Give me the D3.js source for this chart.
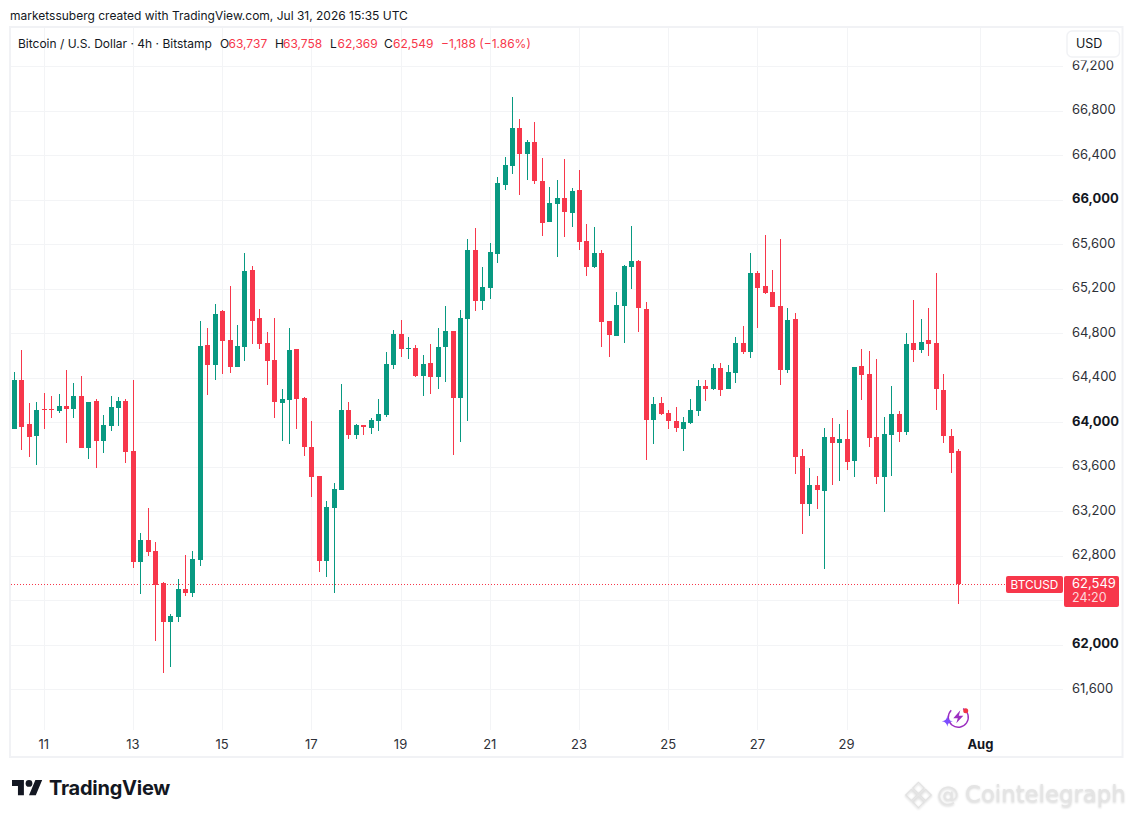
<!DOCTYPE html>
<html>
<head>
<meta charset="utf-8">
<title>BTCUSD 4h</title>
<script src="https://cdn.jsdelivr.net/npm/d3@7"></script>
<style>
  html, body { margin: 0; padding: 0; background: #fff; }
  svg { display: block; }
  text { font-family: Inter, "Noto Sans", sans-serif; font-size: 13px; fill: #131722; }
  .axis text { fill: #2e3138; font-size: 13px; }
  .axis path, .axis line { display: none; }
  .major text, text.major { font-weight: 700; fill: #131722; }
</style>
</head>
<body>
<svg id="chart" width="1133" height="818"></svg>
<script>
"use strict"

// 4h candles, first one is Jul 10 2026 08:00 UTC
var firstCandle = Date.UTC(2026, 6, 10, 8)

var opens = [63938,64379,63983,63875,64118,64118,64100,64145,64118,64235,63768,64190,63831,63965,64127,64190,
  63741,62743,62941,62842,62555,62204,62249,62501,62465,62761,64693,64513,64999,64738,64495,64675,
  65367,64936,64711,64558,64172,64199,64657,64217,63777,63516,62752,63228,63390,64109,63884,63974,
  63947,64010,64064,64513,64792,64657,64666,64415,64531,64406,64675,64819,64217,64927,65547,65088,
  65205,65511,66131,66301,66643,66409,66517,66167,65798,65960,66014,65879,66086,65628,65394,65520,
  64909,64774,65044,65394,65448,65017,64019,64172,64082,64010,63938,63992,64100,64325,64298,64486,
  64298,64442,64711,64630,65340,65223,65169,65044,64469,64927,63696,63265,63435,63381,63866,63813,
  63848,63651,64504,64433,63866,63507,63884,64073,63911,64711,64648,64738,64711,64289,63875,63737]
var highs = [64451,64648,64172,64181,64262,64235,64253,64469,64352,64415,64181,64208,64064,64235,64226,64208,
  64379,63004,63228,62923,62564,62276,62591,62806,62842,64909,64846,65061,65008,65223,64873,65520,
  65403,65017,64810,64936,64298,64846,64657,64226,64010,63516,63291,63453,64343,64181,63983,63974,
  64037,64208,64630,64828,64918,64765,64693,64603,64702,64846,65044,64819,65008,65646,65744,65394,
  65610,66203,66382,66921,66724,66535,66697,66373,66113,66176,66364,66104,66266,65780,65753,65547,
  64909,65169,65412,65762,65457,65079,64226,64226,64109,64136,64046,64208,64379,64379,64522,64531,
  64513,64765,64864,65520,65358,65681,65367,65646,65026,64981,63759,63588,63516,63947,64037,63983,
  64109,64495,64657,64639,64567,64046,64325,64100,64801,65097,64927,65026,65340,64433,63938,63758]
var lows = [63938,63750,63687,63615,63938,64037,64082,63813,64037,63768,63669,63588,63723,63920,63965,63633,
  62689,62456,62797,62034,61746,61800,62204,62438,62429,62707,64244,64379,64433,64442,64495,64549,
  64702,64657,64334,64037,63831,63804,63938,63696,63327,62654,62609,62465,63390,63848,63848,63884,
  63893,63920,64046,64478,64585,64567,64406,64235,64253,64298,64361,63705,63822,64010,64999,65008,
  65106,65430,66086,66230,66041,66176,66140,65672,65798,65484,65664,65753,65547,65313,65385,64675,
  64585,64774,64711,65196,64810,63660,63804,64064,63938,63911,63741,63983,64055,64190,64289,64235,
  64298,64352,64612,64576,64846,65151,65035,64334,64442,63534,62995,63157,63219,62680,63435,63471,
  63570,63507,64199,63777,63444,63192,63516,63822,63884,64540,64621,64594,64109,63813,63543,62369]
var closes = [64379,63956,63866,64109,64109,64109,64145,64118,64235,63768,64181,63831,63974,64136,64190,63732,
  62743,62941,62833,62537,62204,62258,62501,62465,62770,64684,64513,64972,64729,64495,64684,65358,
  64909,64702,64549,64181,64208,64648,64208,63777,63507,62752,63237,63399,64109,63884,63974,63956,
  64019,64073,64522,64792,64657,64666,64415,64522,64406,64675,64819,64217,64936,65547,65088,65214,
  65529,66149,66310,66643,66409,66517,66167,65789,65969,66014,65888,66077,65619,65394,65520,64900,
  64783,65053,65403,65448,65026,64019,64163,64073,64010,63947,64001,64109,64325,64298,64486,64289,
  64451,64711,64630,65340,65205,65160,65035,64469,64918,63687,63265,63435,63390,63866,63813,63848,
  63642,64495,64424,63857,63507,63893,64073,63911,64702,64648,64720,64702,64298,63875,63723,62549]

var priceTicks = [67200,66800,66400,66000,65600,65200,64800,64400,64000,63600,63200,62800,62400,62000,61600]
var majorPrices = [66000,64000,62000]
var dayTicks = [[2026,6,11],[2026,6,13],[2026,6,15],[2026,6,17],[2026,6,19],[2026,6,21],[2026,6,23],
  [2026,6,25],[2026,6,27],[2026,6,29],[2026,7,1]]
var titleText = "Bitcoin / U.S. Dollar · 4h · Bitstamp"
var ohlcLabels = ["O", "H", "L", "C"]
var lastOhlc = [63737, 63758, 62369, 62549]
var lastChange = "\u22121,188 (\u22121.86%)"
var lastPrice = 62549
var countdown = "24:20"

var upColor = "#089981"
var downColor = "#f7374b"
var gridColor = "#f3f4f6"
var frameColor = "#f1f2f5"

var svg = d3.select("#chart")

var x = d3.scaleUtc()
  .domain([Date.UTC(2026, 6, 11), Date.UTC(2026, 7, 1)])
  .range([44.2, 980.9])
var y = d3.scaleLinear().domain([61600, 67200]).range([689.3, 66])

var candles = opens.map(function(o, i) {
  return {
    time: new Date(firstCandle + i * 4 * 3600 * 1000),
    open: o, high: highs[i], low: lows[i], close: closes[i]
  }
})
var dayDates = dayTicks.map(function(d) { return new Date(Date.UTC(d[0], d[1], d[2])) })

// frame + grid
svg.append("rect")
  .attr("x", 10).attr("y", 27).attr("width", 1112.5).attr("height", 730)
  .attr("fill", "#fff").attr("stroke", frameColor).attr("stroke-width", 2)

svg.append("g").selectAll("line").data(priceTicks).join("line")
  .attr("x1", 11).attr("x2", 1063)
  .attr("y1", function(d) { return Math.round(y(d)) + 0.5 })
  .attr("y2", function(d) { return Math.round(y(d)) + 0.5 })
  .attr("stroke", gridColor)
svg.append("g").selectAll("line").data(dayDates).join("line")
  .attr("y1", 28).attr("y2", 730)
  .attr("x1", function(d) { return Math.floor(x(d)) + 0.5 })
  .attr("x2", function(d) { return Math.floor(x(d)) + 0.5 })
  .attr("stroke", gridColor)

// last price line
svg.append("line")
  .attr("x1", 11).attr("x2", 1006)
  .attr("y1", Math.round(y(lastPrice)) + 0.5).attr("y2", Math.round(y(lastPrice)) + 0.5)
  .attr("stroke", downColor).attr("stroke-dasharray", "1,2")

// candles
function candleColor(d) { return d.close < d.open ? downColor : upColor }

var candle = svg.append("g").attr("shape-rendering", "crispEdges")
  .selectAll("g").data(candles).join("g")
candle.append("rect")
  .attr("x", function(d) { return Math.floor(x(d.time)) })
  .attr("width", 1)
  .attr("y", function(d) { return Math.round(y(d.high)) })
  .attr("height", function(d) { return Math.round(y(d.low)) - Math.round(y(d.high)) })
  .attr("fill", candleColor)
candle.append("rect")
  .attr("x", function(d) { return Math.floor(x(d.time)) - 2 })
  .attr("width", 5)
  .attr("y", function(d) { return Math.round(y(Math.max(d.open, d.close))) })
  .attr("height", function(d) {
    return Math.max(1, Math.round(y(Math.min(d.open, d.close))) - Math.round(y(Math.max(d.open, d.close))))
  })
  .attr("fill", candleColor)

// axes
var yAxis = d3.axisRight(y).tickValues(priceTicks).tickSize(0).tickPadding(9)
  .tickFormat(d3.format(","))
var yAxisG = svg.append("g").attr("class", "axis").attr("transform", "translate(1063,0)").call(yAxis)
yAxisG.selectAll("text").attr("dy", "0.24em")
yAxisG.selectAll(".tick").classed("major", function(d) { return majorPrices.indexOf(d) >= 0 })

var xAxis = d3.axisBottom(x).tickValues(dayDates).tickSize(0).tickPadding(0)
  .tickFormat(function(d) { return d.getUTCDate() === 1 ? "Aug" : d3.utcFormat("%-d")(d) })
var xAxisG = svg.append("g").attr("class", "axis").attr("transform", "translate(-1,740)").call(xAxis)
xAxisG.selectAll(".tick").classed("major", function(d) { return d.getUTCDate() === 1 })

// header texts
svg.append("text").attr("x", 10).attr("y", 19.5).style("font-size", "12px").style("fill", "#131722")
  .text("marketssuberg created with TradingView.com, Jul 31, 2026 15:35 UTC")

var legend = svg.append("text").attr("y", 47.5).style("font-size", "12px")
legend.append("tspan").attr("x", 18).text(titleText)
var labelX = [220, 275, 330, 384]
var valueX = [228.5, 283, 337.5, 393]
ohlcLabels.forEach(function(l, i) {
  legend.append("tspan").attr("x", labelX[i]).text(l)
  legend.append("tspan").attr("x", valueX[i]).style("fill", downColor).text(d3.format(",")(lastOhlc[i]))
})
legend.append("tspan").attr("x", 441).style("fill", downColor).text(lastChange)

// USD button, sits on top of the 67,200 label and cuts its top off
svg.append("rect").attr("x", 1064).attr("y", 29).attr("width", 57).attr("height", 31.5).attr("fill", "#fff")
svg.append("rect").attr("x", 1067).attr("y", 31).attr("width", 52.5).attr("height", 26).attr("rx", 5)
  .attr("fill", "#fff").attr("stroke", frameColor).attr("stroke-width", 1.5)
svg.append("text").attr("x", 1076).attr("y", 47.5).style("font-size", "12.5px").text("USD")

// last price tags
svg.append("rect").attr("x", 1006).attr("y", 576).attr("width", 57).attr("height", 17).attr("rx", 2).attr("fill", downColor)
svg.append("text").attr("x", 1034.5).attr("y", 589).attr("text-anchor", "middle")
  .style("font-size", "11.8px").style("fill", "#fff").text("BTCUSD")
svg.append("rect").attr("x", 1064).attr("y", 576).attr("width", 55).attr("height", 31).attr("rx", 2).attr("fill", downColor)
svg.append("text").attr("x", 1072).attr("y", 588).style("fill", "#fff").text(d3.format(",")(lastPrice))
svg.append("text").attr("x", 1072).attr("y", 602).style("font-size", "12.5px").style("fill", "#fdd7dc").text(countdown)

// spark icon near the last candle
var spark = svg.append("g").attr("transform", "translate(958.3,717.3)")
spark.append("path").attr("d", d3.arc()({ innerRadius: 9.3, outerRadius: 10.7, startAngle: 0.5, endAngle: 5.5 }))
  .attr("fill", "#9c2fc0")
spark.append("path").attr("d", "M2,-7 L-5,1 L-0.5,1 L-2,6 L5,-1.5 L0.5,-1.5 Z").attr("fill", "#9c2fc0")
spark.append("path").attr("d", "M-11,-1.5 Q-10.5,3.5 -5.5,4 Q-10.5,4.5 -11,9.5 Q-11.5,4.5 -16.5,4 Q-11.5,3.5 -11,-1.5 Z").attr("fill", "#7c4dff")
spark.append("circle").attr("cx", 7.4).attr("cy", -6.6).attr("r", 2.5).attr("fill", "#f23645")

// TradingView logo
var logo = svg.append("g").attr("transform", "translate(12,776.6) scale(0.85)").attr("fill", "#131722")
logo.append("path").attr("d", "M14 22H7V11H0V4h14v18zM28 22h-8l7.5-18h8L28 22z")
logo.append("circle").attr("cx", 20).attr("cy", 8).attr("r", 4)
svg.append("text").attr("x", 49).attr("y", 795).style("font-size", "20px").style("font-weight", 700)
  .style("letter-spacing", "-0.25px").text("TradingView")

// Cointelegraph watermark
var wm = svg.append("g").style("filter", "drop-shadow(0 1px 1px rgba(0,0,0,0.18))")
wm.append("g").attr("transform", "translate(918.5,795) rotate(45)")
  .selectAll("rect").data([[-9,-9],[1,-9],[-9,1],[1,1]]).join("rect")
  .attr("x", function(d) { return d[0] }).attr("y", function(d) { return d[1] })
  .attr("width", 8).attr("height", 8).attr("fill", "none").attr("stroke", "#e2e2e2").attr("stroke-width", 1.2)
wm.append("text").attr("x", 937).attr("y", 802).style("font-family", "'DejaVu Sans'")
  .style("font-size", "22px").style("fill", "#e4e4e4").text("@")
wm.append("text").attr("x", 965).attr("y", 802).style("font-family", "'DejaVu Sans'")
  .style("font-size", "22.8px").style("fill", "#e4e4e4").text("Cointelegraph")
</script>
</body>
</html>
